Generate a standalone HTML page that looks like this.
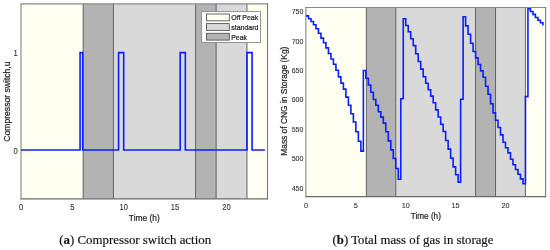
<!DOCTYPE html>
<html><head><meta charset="utf-8"><title>Figure</title>
<style>html,body{margin:0;padding:0;background:#fff;} svg{display:block;}</style>
</head><body>
<svg width="550" height="250" viewBox="0 0 550 250" font-family='"Liberation Sans", Arial, Helvetica, sans-serif' fill="#262626">
<style>text{stroke:#262626;stroke-width:0.22px;} text.cap{stroke:#111;stroke-width:0.15px;} text.tk{fill:#333;stroke:#333;stroke-width:0.1px;}</style>
<rect width="550" height="250" fill="#ffffff"/>
<rect x="21.00" y="4.00" width="62.14" height="194.60" fill="#fffff2"/>
<rect x="83.14" y="4.00" width="30.30" height="194.60" fill="#b3b3b3"/>
<rect x="113.44" y="4.00" width="82.17" height="194.60" fill="#d9d9d9"/>
<rect x="195.60" y="4.00" width="20.54" height="194.60" fill="#b3b3b3"/>
<rect x="216.15" y="4.00" width="30.81" height="194.60" fill="#d9d9d9"/>
<rect x="246.96" y="4.00" width="20.54" height="194.60" fill="#fffff2"/>
<line x1="83.14" y1="4.00" x2="83.14" y2="198.60" stroke="#555555" stroke-width="0.9"/>
<line x1="113.44" y1="4.00" x2="113.44" y2="198.60" stroke="#555555" stroke-width="0.9"/>
<line x1="195.60" y1="4.00" x2="195.60" y2="198.60" stroke="#555555" stroke-width="0.9"/>
<line x1="216.15" y1="4.00" x2="216.15" y2="198.60" stroke="#555555" stroke-width="0.9"/>
<line x1="246.96" y1="4.00" x2="246.96" y2="198.60" stroke="#555555" stroke-width="0.9"/>
<rect x="306.00" y="7.50" width="60.35" height="189.00" fill="#fffff2"/>
<rect x="366.35" y="7.50" width="29.43" height="189.00" fill="#b3b3b3"/>
<rect x="395.77" y="7.50" width="79.80" height="189.00" fill="#d9d9d9"/>
<rect x="475.57" y="7.50" width="19.95" height="189.00" fill="#b3b3b3"/>
<rect x="495.52" y="7.50" width="29.92" height="189.00" fill="#d9d9d9"/>
<rect x="525.45" y="7.50" width="19.95" height="189.00" fill="#fffff2"/>
<line x1="366.35" y1="7.50" x2="366.35" y2="196.50" stroke="#555555" stroke-width="0.9"/>
<line x1="395.77" y1="7.50" x2="395.77" y2="196.50" stroke="#555555" stroke-width="0.9"/>
<line x1="475.57" y1="7.50" x2="475.57" y2="196.50" stroke="#555555" stroke-width="0.9"/>
<line x1="495.52" y1="7.50" x2="495.52" y2="196.50" stroke="#555555" stroke-width="0.9"/>
<line x1="525.45" y1="7.50" x2="525.45" y2="196.50" stroke="#555555" stroke-width="0.9"/>
<line x1="21.0" y1="3.4" x2="21.0" y2="199.3" stroke="#858585" stroke-width="1.1"/>
<line x1="20.5" y1="3.9" x2="268.0" y2="3.9" stroke="#8a8a8a" stroke-width="1.1"/>
<line x1="267.5" y1="3.4" x2="267.5" y2="199.3" stroke="#7a7a7a" stroke-width="1.1"/>
<line x1="20.5" y1="198.8" x2="268.0" y2="198.8" stroke="#6a6a6a" stroke-width="1.2"/>
<line x1="305.9" y1="7.0" x2="305.9" y2="197.2" stroke="#858585" stroke-width="1.1"/>
<line x1="305.4" y1="7.5" x2="546.1" y2="7.5" stroke="#8a8a8a" stroke-width="1.1"/>
<line x1="545.6" y1="7.0" x2="545.6" y2="197.2" stroke="#7a7a7a" stroke-width="1.1"/>
<line x1="305.4" y1="196.7" x2="546.1" y2="196.7" stroke="#6a6a6a" stroke-width="1.2"/>
<path d="M21.00,150.00 L80.06,150.00 L80.06,52.60 L82.62,52.60 L82.62,150.00 L118.57,150.00 L118.57,52.60 L123.71,52.60 L123.71,150.00 L180.20,150.00 L180.20,52.60 L185.33,52.60 L185.33,150.00 L246.96,150.00 L246.96,52.60 L252.09,52.60 L252.09,150.00 L264.93,150.00" fill="none" stroke="#0a1eff" stroke-width="1.6" stroke-linejoin="miter"/>
<path d="M306.00,15.90 L308.49,15.90 L308.49,18.70 L310.99,18.70 L310.99,21.50 L313.48,21.50 L313.48,24.70 L315.98,24.70 L315.98,28.80 L318.47,28.80 L318.47,33.30 L320.96,33.30 L320.96,38.10 L323.46,38.10 L323.46,42.80 L325.95,42.80 L325.95,47.90 L328.44,47.90 L328.44,53.50 L330.94,53.50 L330.94,59.00 L333.43,59.00 L333.43,64.30 L335.93,64.30 L335.93,70.30 L338.42,70.30 L338.42,76.90 L340.91,76.90 L340.91,83.10 L343.41,83.10 L343.41,89.10 L345.90,89.10 L345.90,97.10 L348.39,97.10 L348.39,105.30 L350.89,105.30 L350.89,113.70 L353.38,113.70 L353.38,122.00 L355.88,122.00 L355.88,131.70 L358.37,131.70 L358.37,141.30 L360.86,141.30 L360.86,151.10 L363.36,151.10 L363.36,70.50 L365.85,70.50 L365.85,78.30 L368.34,78.30 L368.34,85.00 L370.84,85.00 L370.84,92.30 L373.33,92.30 L373.33,99.50 L375.82,99.50 L375.82,105.30 L378.32,105.30 L378.32,111.70 L380.81,111.70 L380.81,117.10 L383.31,117.10 L383.31,123.10 L385.80,123.10 L385.80,131.80 L388.29,131.80 L388.29,140.90 L390.79,140.90 L390.79,149.90 L393.28,149.90 L393.28,158.50 L395.77,158.50 L395.77,168.50 L398.27,168.50 L398.27,179.20 L400.76,179.20 L400.76,98.80 L403.26,98.80 L403.26,18.70 L405.75,18.70 L405.75,25.50 L408.24,25.50 L408.24,31.70 L410.74,31.70 L410.74,38.70 L413.23,38.70 L413.23,45.60 L415.72,45.60 L415.72,53.70 L418.22,53.70 L418.22,61.50 L420.71,61.50 L420.71,69.10 L423.21,69.10 L423.21,76.70 L425.70,76.70 L425.70,83.30 L428.19,83.30 L428.19,89.70 L430.69,89.70 L430.69,96.10 L433.18,96.10 L433.18,102.70 L435.67,102.70 L435.67,109.90 L438.17,109.90 L438.17,117.00 L440.66,117.00 L440.66,124.30 L443.16,124.30 L443.16,131.50 L445.65,131.50 L445.65,140.50 L448.14,140.50 L448.14,149.10 L450.64,149.10 L450.64,158.10 L453.13,158.10 L453.13,166.90 L455.62,166.90 L455.62,174.70 L458.12,174.70 L458.12,182.10 L460.61,182.10 L460.61,99.30 L463.11,99.30 L463.11,16.70 L465.60,16.70 L465.60,25.90 L468.09,25.90 L468.09,34.30 L470.59,34.30 L470.59,43.30 L473.08,43.30 L473.08,51.50 L475.57,51.50 L475.57,57.90 L478.07,57.90 L478.07,64.50 L480.56,64.50 L480.56,70.90 L483.06,70.90 L483.06,77.30 L485.55,77.30 L485.55,86.30 L488.04,86.30 L488.04,94.20 L490.54,94.20 L490.54,103.70 L493.03,103.70 L493.03,112.90 L495.52,112.90 L495.52,120.30 L498.02,120.30 L498.02,127.50 L500.51,127.50 L500.51,134.90 L503.01,134.90 L503.01,142.30 L505.50,142.30 L505.50,147.70 L507.99,147.70 L507.99,152.90 L510.49,152.90 L510.49,159.30 L512.98,159.30 L512.98,164.70 L515.48,164.70 L515.48,169.50 L517.97,169.50 L517.97,174.30 L520.46,174.30 L520.46,178.90 L522.96,178.90 L522.96,183.80 L525.45,183.80 L525.45,96.60 L527.94,96.60 L527.94,8.80 L530.44,8.80 L530.44,11.50 L532.93,11.50 L532.93,14.40 L535.42,14.40 L535.42,17.50 L537.92,17.50 L537.92,20.30 L540.41,20.30 L540.41,22.70 L542.91,22.70 L542.91,25.50" fill="none" stroke="#0a1eff" stroke-width="1.6" stroke-linejoin="miter"/>
<!-- legend -->
<rect x="201.6" y="11.6" width="58.9" height="30.9" fill="#ffffff" stroke="#8a8a8a" stroke-width="0.9"/>
<rect x="206.5" y="14" width="22.8" height="6.8" fill="#fffff2" stroke="#555555" stroke-width="0.9"/>
<rect x="206.5" y="23.6" width="22.8" height="6.8" fill="#d9d9d9" stroke="#555555" stroke-width="0.9"/>
<rect x="206.5" y="33.3" width="22.8" height="6.8" fill="#b3b3b3" stroke="#555555" stroke-width="0.9"/>
<text transform="translate(231.20,20.40) scale(1,1.08)" font-size="7.0">Off Peak</text>
<text transform="translate(231.20,30.00) scale(1,1.08)" font-size="7.0">standard</text>
<text transform="translate(231.20,39.60) scale(1,1.08)" font-size="7.0">Peak</text>
<!-- left ticks -->
<text class="tk" transform="translate(17.80,55.60) scale(1,1.1)" text-anchor="end" font-size="7.6">1</text>
<text class="tk" transform="translate(17.80,153.50) scale(1,1.1)" text-anchor="end" font-size="7.6">0</text>
<text class="tk" transform="translate(21.00,210.20) scale(1,1.1)" text-anchor="middle" font-size="7.6">0</text>
<text class="tk" transform="translate(72.35,210.20) scale(1,1.1)" text-anchor="middle" font-size="7.6">5</text>
<text class="tk" transform="translate(123.71,210.20) scale(1,1.1)" text-anchor="middle" font-size="7.6">10</text>
<text class="tk" transform="translate(175.06,210.20) scale(1,1.1)" text-anchor="middle" font-size="7.6">15</text>
<text class="tk" transform="translate(226.42,210.20) scale(1,1.1)" text-anchor="middle" font-size="7.6">20</text>
<text transform="translate(144.30,221.30) scale(1,1.08)" text-anchor="middle" font-size="8.4">Time (h)</text>
<text transform="translate(9.50,101.60) rotate(-90) scale(1,1.08)" text-anchor="middle" font-size="8.6">Compressor switch,u</text>
<!-- right ticks -->
<text class="tk" transform="translate(303.30,14.15) scale(1,1.1)" text-anchor="end" font-size="7">750</text><text class="tk" transform="translate(303.30,43.59) scale(1,1.1)" text-anchor="end" font-size="7">700</text><text class="tk" transform="translate(303.30,73.03) scale(1,1.1)" text-anchor="end" font-size="7">650</text><text class="tk" transform="translate(303.30,102.47) scale(1,1.1)" text-anchor="end" font-size="7">600</text><text class="tk" transform="translate(303.30,131.92) scale(1,1.1)" text-anchor="end" font-size="7">550</text><text class="tk" transform="translate(303.30,161.36) scale(1,1.1)" text-anchor="end" font-size="7">500</text><text class="tk" transform="translate(303.30,190.80) scale(1,1.1)" text-anchor="end" font-size="7">450</text>
<text class="tk" transform="translate(306.00,208.00) scale(1,1.1)" text-anchor="middle" font-size="7.3">0</text>
<text class="tk" transform="translate(355.88,208.00) scale(1,1.1)" text-anchor="middle" font-size="7.3">5</text>
<text class="tk" transform="translate(405.75,208.00) scale(1,1.1)" text-anchor="middle" font-size="7.3">10</text>
<text class="tk" transform="translate(455.62,208.00) scale(1,1.1)" text-anchor="middle" font-size="7.3">15</text>
<text class="tk" transform="translate(505.50,208.00) scale(1,1.1)" text-anchor="middle" font-size="7.3">20</text>
<text transform="translate(425.80,218.80) scale(1,1.08)" text-anchor="middle" font-size="8.2">Time (h)</text>
<text transform="translate(287.20,101.20) rotate(-90) scale(1,1.08)" text-anchor="middle" font-size="8.4">Mass of CNG in Storage (Kg)</text>
<!-- captions -->
<text class="cap" x="59.3" y="244.4" font-family='"Liberation Serif", "Times New Roman", serif' font-size="11.9" fill="#111" textLength="151.8" lengthAdjust="spacingAndGlyphs">(<tspan font-weight="bold">a</tspan>) Compressor switch action</text>
<text class="cap" x="332.6" y="244.4" font-family='"Liberation Serif", "Times New Roman", serif' font-size="11.9" fill="#111" textLength="160.8" lengthAdjust="spacingAndGlyphs">(<tspan font-weight="bold">b</tspan>) Total mass of gas in storage</text>
</svg>
</body></html>
